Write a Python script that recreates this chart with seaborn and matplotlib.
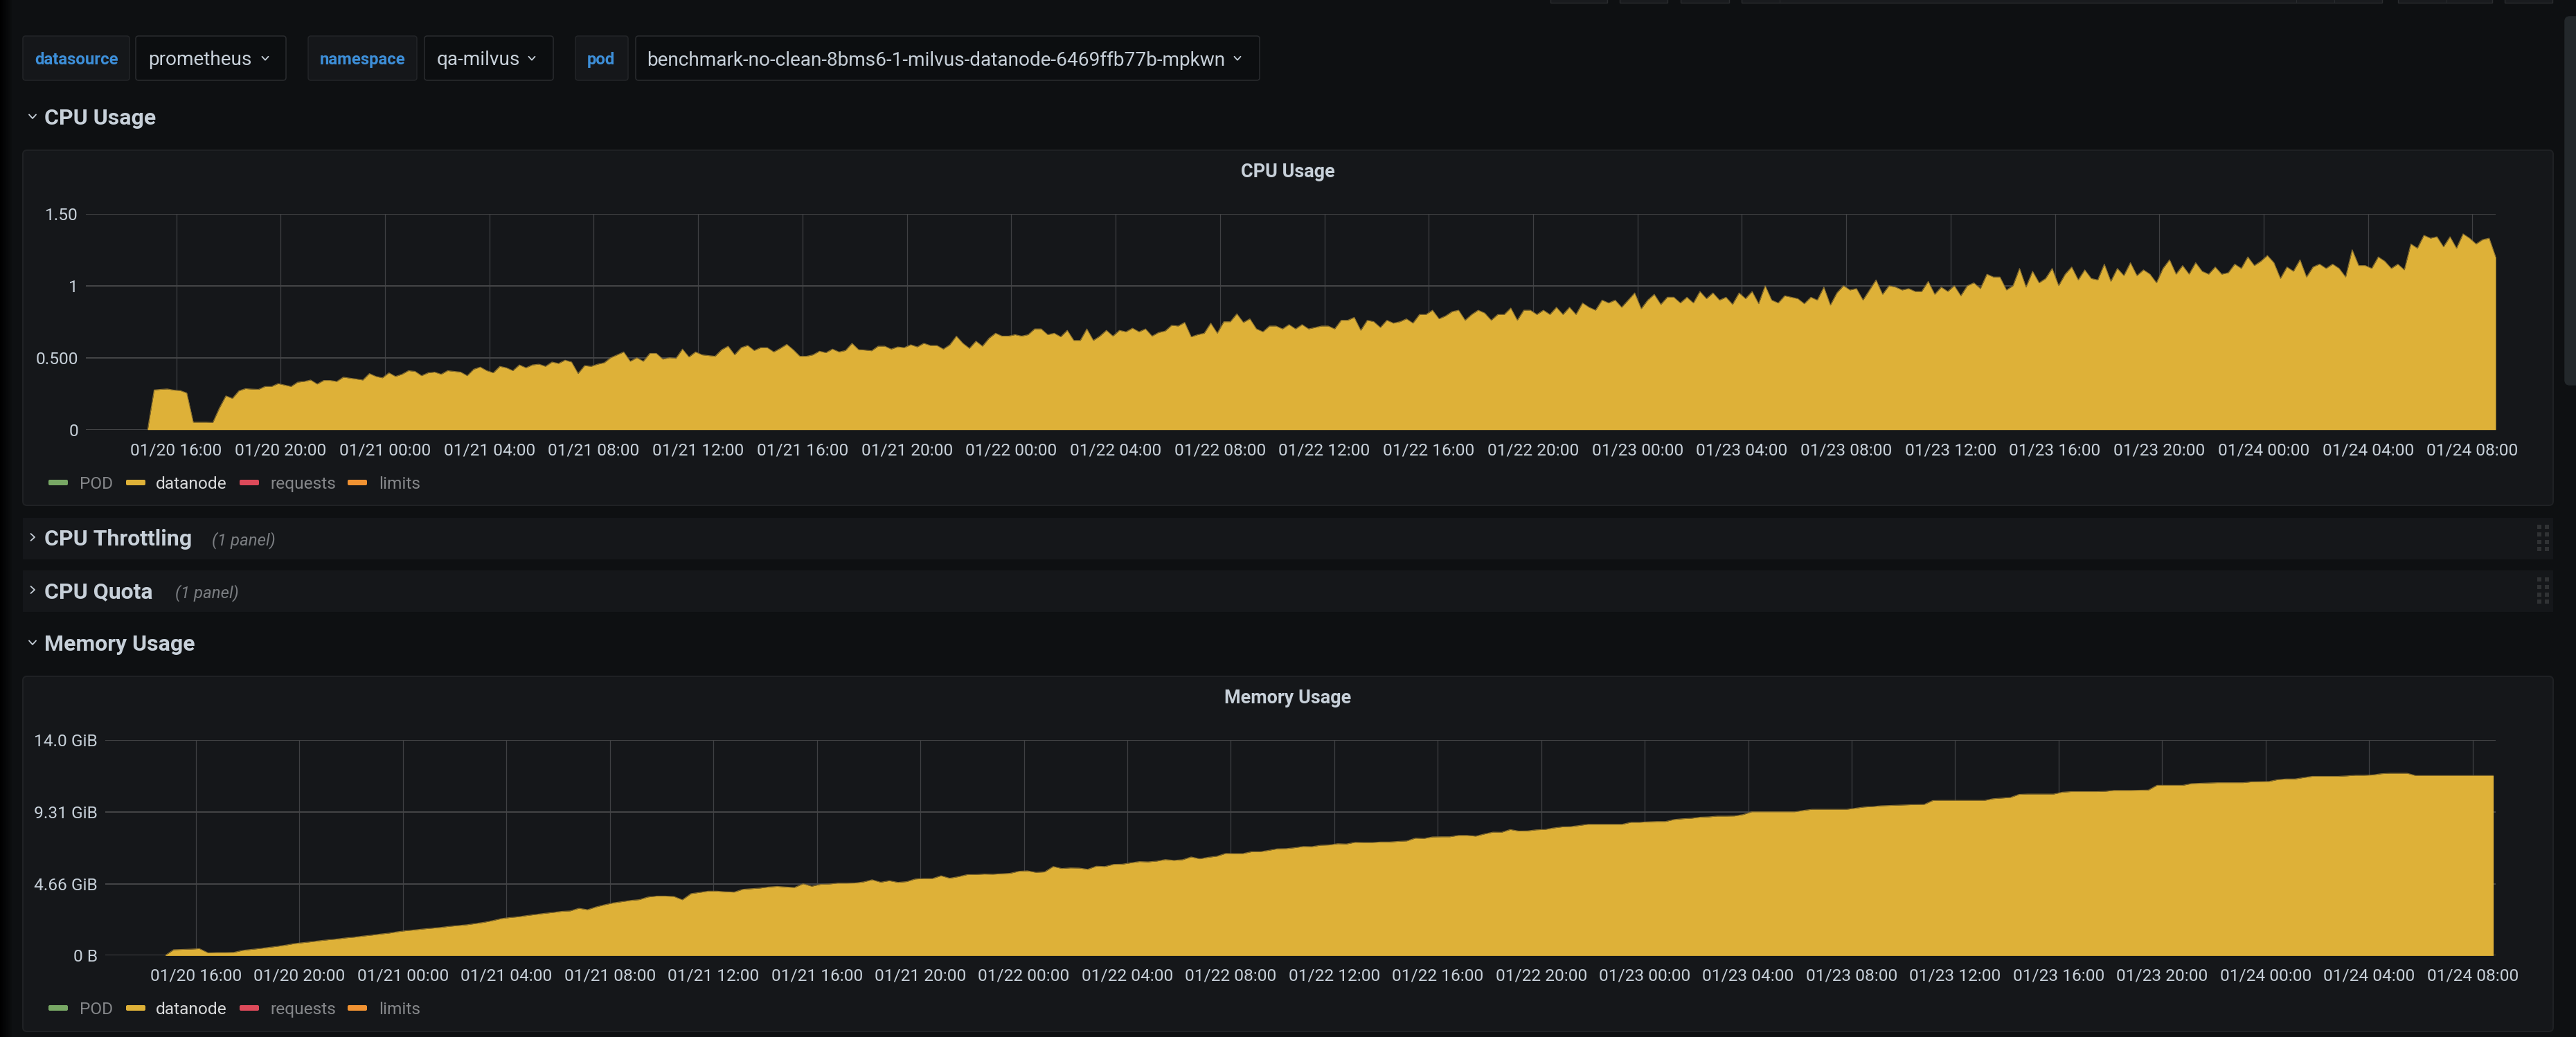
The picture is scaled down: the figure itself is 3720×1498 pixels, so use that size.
#!/usr/bin/env python3
import numpy as np
import pandas as pd
import matplotlib
matplotlib.use("Agg")
import matplotlib.pyplot as plt
import seaborn as sns
from matplotlib.patches import FancyBboxPatch, Rectangle

W, H = 3720, 1498

BG = "#0e1012"
PANEL = "#15171a"
BORDER = "#1f2124"
GRID_H = "#454648"
GRID_V = "#3f4043"
TEXT = "#c7d0d9"
YELLOW = "#deb138"

# hours since 01/20 00:00
cpu_start, cpu_end = 14.9, 104.89
mem_start, mem_end = 14.8, 104.8

cpu_usage = [
    0, .276, .28, .283, .275, .272, .255, .052, .052, .052, .05, .15, .235, .217, .27, .285, .282, .28, .30, .30,
    .32, .31, .30, .33, .335, .345, .317, .342, .342, .335, .365, .358, .352, .345, .39, .37, .36, .395, .37, .385,
    .41, .405, .375, .395, .40, .385, .41, .405, .40, .375, .42, .435, .41, .395, .44, .43, .41, .45, .43, .45,
    .455, .44, .47, .46, .483, .47, .39, .445, .44, .455, .465, .50, .52, .54, .475, .50, .475, .53, .53, .49,
    .50, .495, .56, .505, .54, .52, .515, .51, .555, .58, .52, .57, .585, .55, .57, .57, .54, .565, .593, .555,
    .51, .51, .52, .545, .535, .56, .54, .55, .60, .556,
    .553, .548, .58, .58, .56, .575, .57, .59, .575, .60, .585, .585, .56, .59, .65, .60, .565, .615, .58, .635,
    .67, .65, .65, .66, .65, .66, .70, .70, .66, .67, .645, .69, .62, .62, .70, .62, .65, .69, .65, .69,
    .68, .705, .68, .70, .65, .675, .685, .725, .72, .745, .645, .66, .67, .74, .67, .75, .75, .805, .745, .77,
    .70, .68, .72, .72, .70, .73, .70, .73, .70, .71, .72, .72, .70, .76, .76, .78, .69, .76, .75, .71,
    .76, .74, .75, .77, .74, .80, .80, .83, .77, .79, .82, .83, .76, .80, .83, .81, .76, .80, .80, .845,
    .76, .83, .83, .80, .83, .80, .85, .80, .85, .80, .88, .85, .83, .90, .88, .90, .85, .90, .95, .84,
    .90, .94, .87, .92, .92, .88, .92, .88, .96, .91, .95,
    .90, .92, .87, .95, .91, .96, .875, 1.0, .90, .88, .93, .92, .91, .875, .92, .90, .99, .865, .95, 1.0,
    .97, .98, .90, .97, 1.04, .94, 1.00, .99, .97, .98, .96, .96, 1.03, .94, .99, .96, 1.0, .93, 1.0, 1.02,
    .98, 1.08, 1.06, 1.06, .97, 1.0, 1.12, .99, 1.1, 1.02, 1.05, 1.12, 1.0, 1.08, 1.13, 1.04, 1.11, 1.05, 1.04, 1.15,
    1.03, 1.12, 1.07, 1.16, 1.07, 1.11, 1.08, 1.02, 1.12, 1.18, 1.08, 1.14, 1.08, 1.16, 1.10, 1.08, 1.13, 1.08, 1.09, 1.15,
    1.12, 1.2, 1.14, 1.17, 1.21, 1.16, 1.05, 1.13, 1.10, 1.18, 1.06, 1.13, 1.15, 1.12, 1.15, 1.12, 1.06, 1.25, 1.14, 1.14,
    1.12, 1.20, 1.17, 1.12, 1.15, 1.11, 1.29, 1.26, 1.35, 1.33, 1.34, 1.27, 1.34, 1.26, 1.36, 1.33, 1.29, 1.32, 1.33, 1.2,
]

memory_usage = [
    0, .38, .40, .42, .45, .18, .20, .20, .21, .34, .40, .46, .53, .60, .68, .78, .84, .90,
    .97, 1.03, 1.08, 1.15, 1.20, 1.27, 1.33, 1.40, 1.46, 1.55, 1.62, 1.67, 1.73, 1.78, 1.83, 1.90, 1.95, 2.00,
    2.08, 2.16, 2.27, 2.40, 2.47, 2.52, 2.60, 2.67, 2.74, 2.80, 2.87, 2.90, 3.07, 2.98, 3.16, 3.30, 3.42, 3.50,
    3.58, 3.63, 3.80, 3.86, 3.86, 3.84, 3.62, 4.02, 4.10, 4.18, 4.18, 4.14, 4.12, 4.30, 4.34, 4.38, 4.45, 4.49,
    4.45, 4.42, 4.66, 4.50, 4.62, 4.64, 4.70, 4.70, 4.71, 4.78, 4.92, 4.76, 4.86, 4.75, 4.80, 4.97, 5.00, 5.00,
    5.18, 5.02, 5.12, 5.25, 5.26, 5.29, 5.28, 5.31, 5.34, 5.47, 5.50, 5.40, 5.43, 5.78, 5.65, 5.69, 5.68, 5.60,
    5.80, 5.78, 5.92, 5.93, 6.02, 6.10, 6.08, 6.13, 6.23, 6.18, 6.22, 6.40, 6.28, 6.38, 6.45, 6.63, 6.62, 6.62,
    6.74, 6.74, 6.83, 6.93, 6.94, 7.00, 7.08, 7.07, 7.16, 7.18, 7.26, 7.24, 7.35, 7.34, 7.34, 7.37, 7.37, 7.41,
    7.44, 7.62, 7.60, 7.70, 7.71, 7.71, 7.80, 7.80, 7.75, 7.89, 8.01, 8.00, 8.18, 8.08, 8.09, 8.16, 8.18, 8.28,
    8.35, 8.37, 8.44, 8.52, 8.52, 8.52, 8.52, 8.52, 8.65, 8.65, 8.68, 8.70, 8.70, 8.83, 8.88, 8.91, 8.98, 9.00,
    9.05, 9.05, 9.06, 9.15, 9.33, 9.33, 9.33, 9.33, 9.33, 9.33, 9.42, 9.49, 9.49, 9.49, 9.49, 9.49, 9.56, 9.64,
    9.67, 9.72, 9.74, 9.76, 9.78, 9.80, 9.81, 10.06, 10.07, 10.07, 10.07, 10.07, 10.07, 10.07, 10.18, 10.22, 10.26, 10.46,
    10.48, 10.48, 10.48, 10.48, 10.60, 10.64, 10.64, 10.64, 10.64, 10.66, 10.72, 10.72, 10.72, 10.73, 10.74, 11.05, 11.05, 11.05,
    11.05, 11.16, 11.18, 11.20, 11.22, 11.22, 11.22, 11.22, 11.28, 11.29, 11.30, 11.42, 11.46, 11.46, 11.55, 11.63, 11.63, 11.63,
    11.63, 11.66, 11.70, 11.70, 11.72, 11.80, 11.83, 11.83, 11.83, 11.68, 11.68, 11.68, 11.68, 11.68, 11.68, 11.68, 11.68, 11.68,
    11.68,
]

tick_times = pd.date_range("2022-01-20 16:00", "2022-01-24 08:00", freq="4h")
tick_labels = [t.strftime("%m/%d %H:%M") for t in tick_times]

cpu_ticks = [0, 0.5, 1, 1.5]
cpu_tick_labels = ["0", "0.500", "1", "1.50"]
mem_ticks = [0, 4.66, 9.31, 14.0]
mem_tick_labels = ["0 B", "4.66 GiB", "9.31 GiB", "14.0 GiB"]

legend_names = ["POD", "datanode", "requests", "limits"]
legend_colors = ["#78a865", YELLOW, "#dd4a5a", "#f09232"]

sns.set_theme(style="dark", rc={"axes.facecolor": PANEL, "figure.facecolor": BG})
plt.rcParams["font.family"] = ["Roboto", "DejaVu Sans"]


def px(size):
    # font size in points from pixels at dpi 100
    return size * 0.72


fig = plt.figure(figsize=(W / 100, H / 100), dpi=100, facecolor=BG)
ui = fig.add_axes([0, 0, 1, 1], zorder=0)
ui.set_xlim(0, W)
ui.set_ylim(H, 0)
ui.axis("off")


def box(x0, y0, x1, y1, face, edge=None, radius=4, lw=1.5, z=1):
    ui.add_patch(FancyBboxPatch((x0, y0), x1 - x0, y1 - y0, boxstyle=f"round,pad=0,rounding_size={radius}",
                                facecolor=face, edgecolor=edge or face, linewidth=lw * 0.72, zorder=z))


def chevron(x, y, down=True, size=5, color=TEXT):
    if down:
        ui.plot([x - size, x, x + size], [y - size * 0.5, y + size * 0.6, y - size * 0.5], color=color, lw=1.3, zorder=3)
    else:
        ui.plot([x - size * 0.5, x + size * 0.6, x - size * 0.5], [y - size, y, y + size], color=color, lw=1.3, zorder=3)


def label(x, y, text, size, color=TEXT, weight="normal", ha="left", style="normal"):
    ui.text(x, y, text, fontsize=px(size), color=color, fontweight=weight, ha=ha, va="center_baseline",
            fontstyle=style, zorder=3)


# darker strip on the left edge
strip = np.zeros((1, 18, 4))
strip[..., 3] = np.linspace(1, 0, 18)
ui.imshow(strip, extent=[0, 18, H, 0], aspect="auto", zorder=5)
ui.set_xlim(0, W)
ui.set_ylim(H, 0)

# toolbar remains at the very top
for x0, x1 in [(2239, 2321), (2339, 2408), (2427, 2497), (2515, 3440), (3463, 3599), (3617, 3686)]:
    ui.add_patch(Rectangle((x0, -2), x1 - x0, 5.5, facecolor="#191b1e", edgecolor="#2a2c2f", lw=1))
for x0 in [2570, 3316, 3371, 3533]:
    ui.plot([x0, x0], [0, 3], color="#2a2c2f", lw=0.8)

# scrollbar
box(3704, 24, 3726, 556, "#23282b", radius=7)

# template variables
variables = [
    (33, 187, 50, "datasource", 196, 413, 214, "prometheus", 383),
    (445, 602, 462, "namespace", 613, 799, 631, "qa-milvus", 768),
    (831, 907, 848, "pod", 918, 1819, 934, "benchmark-no-clean-8bms6-1-milvus-datanode-6469ffb77b-mpkwn", 1787),
]
for lx0, lx1, ltx, ltext, vx0, vx1, vtx, vtext, cx in variables:
    box(lx0, 52, lx1, 116, PANEL, "#232528")
    box(vx0, 52, vx1, 116, "#0c0e10", "#2a2c2f")
    label(ltx, 84, ltext, 24, "#3d8fd9", "semibold")
    label(vtx, 84, vtext, 28)
    chevron(cx, 84, size=4.5)

# section rows
chevron(47, 168)
label(64, 168, "CPU Usage", 32, weight="semibold")
chevron(47, 928)
label(64, 928, "Memory Usage", 32, weight="semibold")

for top, bottom, name, note_x in [(748, 808, "CPU Throttling", 306), (824, 884, "CPU Quota", 253)]:
    mid = (top + bottom) / 2
    ui.add_patch(Rectangle((33, top), 3654, bottom - top, facecolor=PANEL, edgecolor="none", zorder=1))
    chevron(47, mid - 2, down=False)
    label(64, mid - 2, name, 32, weight="semibold")
    label(note_x, mid, "(1 panel)", 24, "#7b7e82", style="italic")
    for col in (3664, 3675):
        for off in (10, 21, 32, 42):
            ui.add_patch(Rectangle((col, top + off), 5.5, 5.5, facecolor="#303234", edgecolor="none", zorder=2))


def chart(left, ax_top, ax_bottom, panel_top, panel_bottom, title, title_y, tick_x0, px_per_hour,
          hours, values, ticks, tick_text, ymax, legend_y, xtick_y):
    box(33, panel_top, 3687, panel_bottom, PANEL, BORDER, radius=6, lw=2)
    label(1860, title_y, title, 27, weight="semibold", ha="center")

    right = 3604
    ax = fig.add_axes([left / W, 1 - ax_bottom / H, (right - left) / W, (ax_bottom - ax_top) / H], zorder=2)
    ax.patch.set_alpha(0)
    base = pd.Timestamp("2022-01-20")
    frame = pd.DataFrame({"time": base + pd.to_timedelta(hours, unit="h"), "value": values})
    sns.lineplot(data=frame, x="time", y="value", ax=ax, color="#8a7130", linewidth=0.8, estimator=None, zorder=3)
    ax.fill_between(frame["time"], 0, frame["value"], color=YELLOW, linewidth=0, zorder=2.5)

    hour_left = 16 + (left - tick_x0) / px_per_hour
    hour_right = 16 + (right - tick_x0) / px_per_hour
    ax.set_xlim(base + pd.Timedelta(hours=hour_left), base + pd.Timedelta(hours=hour_right))
    ax.set_ylim(0, ymax)
    ax.set_xticks(tick_times)
    ax.set_xticklabels(tick_labels)
    ax.set_yticks(ticks)
    ax.set_yticklabels(tick_text)
    ax.set_xlabel("")
    ax.set_ylabel("")
    ax.tick_params(axis="x", length=0, pad=(xtick_y - ax_bottom - 8) * 0.72, labelsize=px(24.5), colors=TEXT)
    ax.tick_params(axis="y", length=0, pad=8, labelsize=px(24.5), colors=TEXT)
    ax.set_axisbelow(True)
    ax.grid(axis="y", color=GRID_H, lw=1.4, zorder=1)
    ax.grid(axis="x", color=GRID_V, lw=0.9, zorder=1)
    for spine in ax.spines.values():
        spine.set_visible(False)

    # legend
    for name, color, sx, tx in zip(legend_names, legend_colors, [70, 182, 346, 502], [115, 225, 390, 547]):
        box(sx, legend_y - 4, sx + 28, legend_y + 4, color, radius=2, lw=0, z=2)
        label(tx, legend_y, name, 24.5, "#d8d9da" if name == "datanode" else "#85878a")


cpu_hours = np.linspace(cpu_start, cpu_end, len(cpu_usage))
mem_hours = np.linspace(mem_start, mem_end, len(memory_usage))

chart(124, 308.7, 620.7, 217, 730, "CPU Usage", 246, 254.6, 37.68,
      cpu_hours, cpu_usage, cpu_ticks, cpu_tick_labels, 1.5, 697, 648)
chart(152, 1068.7, 1380.4, 977, 1490, "Memory Usage", 1005, 283, 37.36,
      mem_hours, memory_usage, mem_ticks, mem_tick_labels, 14.0, 1456, 1407)

fig.savefig("out.png", dpi=100, facecolor=BG)
